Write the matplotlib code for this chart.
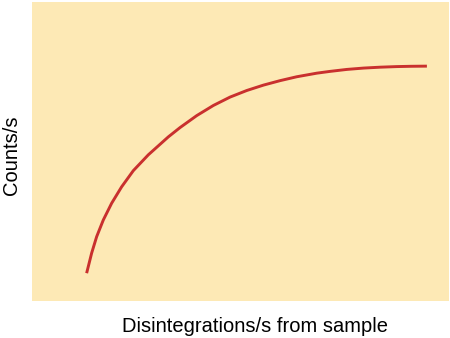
import numpy as np
import matplotlib
matplotlib.use("Agg")
import matplotlib.pyplot as plt

# curve (arbitrary units, 0-100 on both axes)
rate_x = [13.1, 14.3, 15.5, 17.1, 19.1, 21.5, 24.3, 27.9, 32.7, 35.5, 39.5, 43.5, 47.5,
          51.5, 55.5, 59.5, 63.5, 68.3, 71.5, 75.5, 79.5, 83.5, 87.5, 91.0, 94.7]
counts_y = [9.3, 16.0, 21.5, 27.1, 32.7, 38.2, 43.6, 48.9, 54.9, 58.0, 62.0, 65.4, 68.2,
            70.4, 72.2, 73.7, 75.0, 76.2, 76.8, 77.45, 77.9, 78.2, 78.4, 78.5, 78.55]

plt.rcParams["font.family"] = ["Liberation Sans", "DejaVu Sans"]

fig = plt.figure(figsize=(4.5, 3.38), dpi=100)
ax = fig.add_axes([32 / 450, 37 / 338, 417 / 450, 299 / 338])
ax.set_facecolor("#fde9b5")
ax.plot(rate_x, counts_y, color="#c9302e", lw=2.1, solid_capstyle="butt", solid_joinstyle="round")
ax.set_xlim(0, 100)
ax.set_ylim(0, 100)
ax.set_xticks([])
ax.set_yticks([])
for s in ax.spines.values():
    s.set_visible(False)

fig.text(255 / 450, 1 - 327 / 338, "Disintegrations/s from sample", ha="center", va="center", fontsize=14.5)
fig.text(11 / 450, 1 - 155 / 338, "Counts/s", ha="center", va="center", rotation=90, fontsize=14.5)

fig.savefig("out.png", dpi=100)
